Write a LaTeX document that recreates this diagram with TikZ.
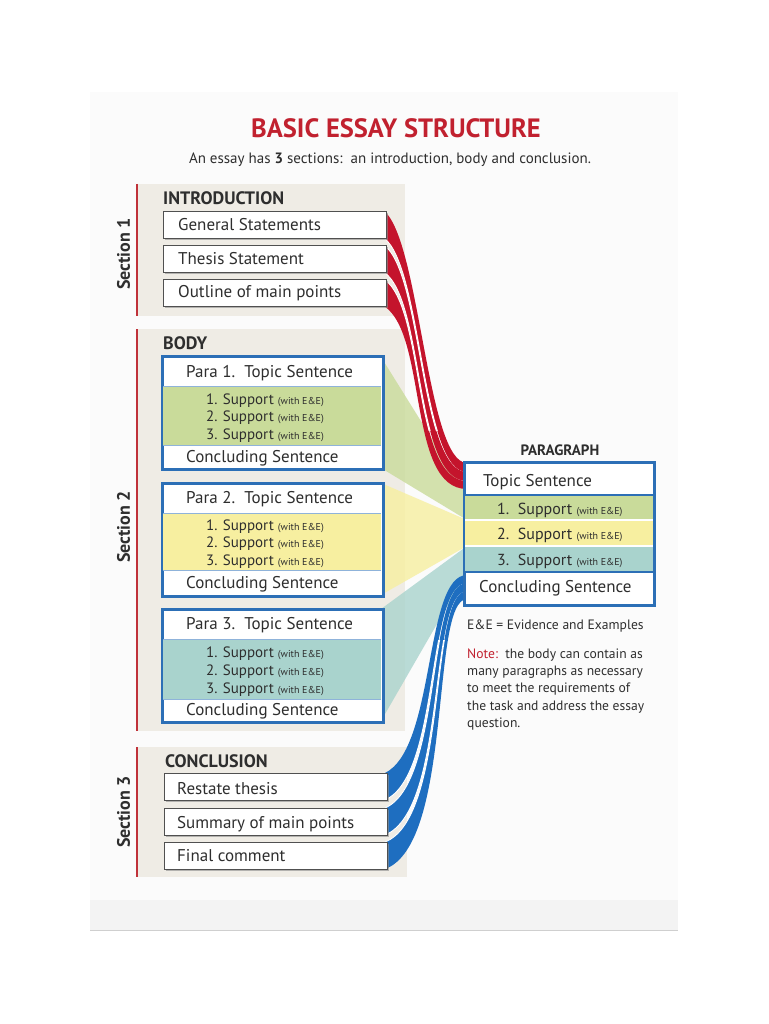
\documentclass[tikz,border=0pt]{standalone}
\usepackage{fontspec}
\setmainfont{PT Sans}
\usetikzlibrary{shadows}
\definecolor{titlered}{HTML}{C1212F}
\definecolor{ribred}{HTML}{C4142C}
\definecolor{ribblue}{HTML}{1E6EC0}
\definecolor{boxblue}{HTML}{2C6FB6}
\definecolor{sepblue}{HTML}{8FB3DA}
\definecolor{suppgreen}{HTML}{C9DB9A}
\definecolor{suppyellow}{HTML}{F7EFA0}
\definecolor{suppteal}{HTML}{A9D3CD}
\definecolor{panel}{HTML}{EFECE5}
\definecolor{pagebg}{HTML}{FBFBFB}
\definecolor{bandgray}{HTML}{F3F3F3}
\definecolor{linegray}{HTML}{CFCFCF}
\definecolor{txt}{HTML}{2E2E2E}
\definecolor{boxgray}{HTML}{505050}
\definecolor{secred}{HTML}{C0323A}
\newcommand{\pxfont}[1]{\fontsize{#1}{#1}\selectfont}
\newcommand{\wee}{\pxfont{10}(with E\&E)}
\begin{document}
\begin{tikzpicture}[x=1pt,y=-1pt,
  every node/.style={inner sep=0pt, text=txt},
  lbl/.style={anchor=base west},
  heading/.style={lbl, font=\bfseries\pxfont{18}},
  seclabel/.style={font=\bfseries\pxfont{18}, rotate=90},
  boxtext/.style={lbl, font=\pxfont{17}},
  supptext/.style={lbl, font=\pxfont{15}},
  notetext/.style={lbl, font=\pxfont{13.6}},
  plainbox/.style={draw=boxgray, line width=1pt, fill=white, minimum width=223pt,
    minimum height=27pt, anchor=north west,
    drop shadow={shadow xshift=1pt, shadow yshift=-1.5pt, fill=black!45, opacity=0.6}},
  parabox/.style={draw=boxblue, line width=2pt, fill=white, anchor=north west},
  sepline/.style={sepblue, line width=1pt},
  gapline/.style={white, line width=0.9pt}
]
\useasboundingbox (0,0) rectangle (768,1024);
% page background
\fill[white] (0,0) rectangle (768,1024);
\fill[pagebg] (90,92) rectangle (678,900);
\fill[bandgray] (90,900) rectangle (678,930);
\draw[linegray, line width=1pt] (90,930.5) -- (678,930.5);

% title
\node[font=\bfseries\pxfont{26.5}, text=titlered, anchor=base] (title) at (396,138) {BASIC ESSAY STRUCTURE};
\node[font=\pxfont{15}, anchor=base] (subtitle) at (390,164) {An essay has \textbf{3} sections:\ \ an introduction, body and conclusion.};

% section panels
\fill[panel] (137,184) rectangle (405,316);
\fill[panel] (137,329) rectangle (405,731);
\fill[panel] (137,747) rectangle (407,877);
\draw[secred, line width=2pt] (137,184) -- (137,316);
\draw[secred, line width=2pt] (137,329) -- (137,731);
\draw[secred, line width=2pt] (137,747) -- (137,877);
\node[seclabel] (sec1) at (123.5,254) {Section 1};
\node[seclabel] (sec2) at (123.5,527) {Section 2};
\node[seclabel] (sec3) at (123.5,812) {Section 3};

% wedges from body paragraphs
\fill[suppgreen, fill opacity=0.8] (381,357) -- (467,495) -- (467,520) -- (381,468) -- cycle;
\fill[suppyellow, fill opacity=0.8] (381,483) -- (467,520) -- (467,546) -- (381,595) -- cycle;
\fill[suppteal, fill opacity=0.8] (381,609) -- (467,546) -- (467,572) -- (381,721) -- cycle;

% red ribbons
\fill[ribred] (384,211) .. controls (420,240) and (427,463) .. (467,463) -- (467,472) .. controls (421.3,472) and (422.3,267) .. (384,238) -- cycle;
\fill[ribred] (384,245) .. controls (423,274) and (419.8,472) .. (467,472) -- (467,481) .. controls (413.4,481) and (425.1,301) .. (384,272) -- cycle;
\fill[ribred] (384,279) .. controls (425.7,308) and (411.9,481) .. (467,481) -- (467,489) .. controls (407,489) and (428,335) .. (384,306) -- cycle;
\begin{scope}
\clip (380,200) rectangle (470,430);
\draw[gapline] (384,238) .. controls (422.3,267) and (421.3,472) .. (467,472);
\draw[gapline] (384,245) .. controls (423,274) and (419.8,472) .. (467,472);
\draw[gapline] (384,272) .. controls (425.1,301) and (413.4,481) .. (467,481);
\draw[gapline] (384,279) .. controls (425.7,308) and (411.9,481) .. (467,481);
\end{scope}

% blue ribbons
\fill[ribblue] (385,773) .. controls (436,748) and (424,575) .. (467,575) -- (467,583) .. controls (425.7,583) and (441.1,775) .. (385,800) -- cycle;
\fill[ribblue] (385,808) .. controls (442.6,783) and (426.2,583) .. (467,583) -- (467,591) .. controls (427.9,591) and (447.6,810) .. (385,835) -- cycle;
\fill[ribblue] (385,842) .. controls (448.9,817) and (428.3,591) .. (467,591) -- (467,599) .. controls (430,599) and (454,844) .. (385,869) -- cycle;
\begin{scope}
\clip (380,640) rectangle (470,880);
\draw[gapline] (385,800) .. controls (441.1,775) and (425.7,583) .. (467,583);
\draw[gapline] (385,808) .. controls (442.6,783) and (426.2,583) .. (467,583);
\draw[gapline] (385,835) .. controls (447.6,810) and (427.9,591) .. (467,591);
\draw[gapline] (385,842) .. controls (448.9,817) and (428.3,591) .. (467,591);
\end{scope}

% introduction
\node[heading] (intro) at (163,205) {INTRODUCTION};
\node[plainbox] (gs) at (163,211) {};
\node[plainbox] (ts) at (163,245) {};
\node[plainbox] (om) at (163,279) {};
\node[boxtext] (gst) at (178,231) {General Statements};
\node[boxtext] (tst) at (178,264) {Thesis Statement};
\node[boxtext] (omt) at (178,297.5) {Outline of main points};

% body
\node[heading] (body) at (163,349) {BODY};
% para 1
\node[parabox, minimum width=220pt, minimum height=112pt] (p1) at (162,356) {};
\fill[suppgreen] (163,386) rectangle (381,445);
\draw[sepline] (163,386) -- (381,386);
\draw[sepline] (163,445) -- (381,445);
\draw[boxblue, line width=2pt] (p1.north west) rectangle (p1.south east);
\node[boxtext] (p1t) at (186,377) {Para 1.\ \ Topic Sentence};
\node[supptext] (p1a) at (206,404) {1. Support \wee};
\node[supptext] (p1b) at (206,421.5) {2. Support \wee};
\node[supptext] (p1c) at (206,439) {3. Support \wee};
\node[boxtext] (p1d) at (186,462) {Concluding Sentence};
% para 2
\node[parabox, minimum width=220pt, minimum height=112pt] (p2) at (162,483) {};
\fill[suppyellow] (163,513) rectangle (381,570);
\draw[sepline] (163,513) -- (381,513);
\draw[sepline] (163,570) -- (381,570);
\draw[boxblue, line width=2pt] (p2.north west) rectangle (p2.south east);
\node[boxtext] (p2t) at (186,503.5) {Para 2.\ \ Topic Sentence};
\node[supptext] (p2a) at (206,530) {1. Support \wee};
\node[supptext] (p2b) at (206,547.5) {2. Support \wee};
\node[supptext] (p2c) at (206,565) {3. Support \wee};
\node[boxtext] (p2d) at (186,588.5) {Concluding Sentence};
% para 3
\node[parabox, minimum width=220pt, minimum height=112pt] (p3) at (162,609) {};
\fill[suppteal] (163,639) rectangle (381,699);
\draw[sepline] (163,639) -- (381,639);
\draw[sepline] (163,699) -- (381,699);
\draw[boxblue, line width=2pt] (p3.north west) rectangle (p3.south east);
\node[boxtext] (p3t) at (186,629.5) {Para 3.\ \ Topic Sentence};
\node[supptext] (p3a) at (206,657.5) {1. Support \wee};
\node[supptext] (p3b) at (206,675.5) {2. Support \wee};
\node[supptext] (p3c) at (206,693.5) {3. Support \wee};
\node[boxtext] (p3d) at (186,715) {Concluding Sentence};

% conclusion
\node[heading] (concl) at (165,767) {CONCLUSION};
\node[plainbox] (rt) at (164,773) {};
\node[plainbox] (sm) at (164,808) {};
\node[plainbox] (fc) at (164,842) {};
\node[boxtext] (rtt) at (177,794) {Restate thesis};
\node[boxtext] (smt) at (177,828.5) {Summary of main points};
\node[boxtext] (fct) at (177,861) {Final comment};

% paragraph model
\node[font=\bfseries\pxfont{15}, anchor=base] (parhead) at (560,455) {PARAGRAPH};
\node[parabox, minimum width=189pt, minimum height=142pt] (pg) at (464,462) {};
\fill[suppgreen] (465,495) rectangle (653,520);
\fill[suppyellow] (465,520) rectangle (653,546);
\fill[suppteal] (465,546) rectangle (653,572);
\draw[white, line width=1.5pt] (465,520) -- (653,520);
\draw[white, line width=1.5pt] (465,546) -- (653,546);
\draw[boxblue, line width=1.2pt] (465,495) -- (653,495);
\draw[boxblue, line width=1.2pt] (465,572) -- (653,572);
\draw[boxblue, line width=2pt] (pg.north west) rectangle (pg.south east);
\node[lbl, font=\pxfont{17}] (pgt) at (483,486) {Topic Sentence};
\node[lbl, font=\pxfont{16}] (pga) at (497,514) {1.\ \ Support \wee};
\node[lbl, font=\pxfont{16}] (pgb) at (497,539.5) {2.\ \ Support \wee};
\node[lbl, font=\pxfont{16}] (pgc) at (497,565) {3.\ \ Support \wee};
\node[lbl, font=\pxfont{17}] (pgd) at (479,592.5) {Concluding Sentence};

% notes
\node[notetext] (ee) at (467,629.5) {E\&E = Evidence and Examples};
\node[notetext] (n1) at (467,658.3) {\textcolor{titlered}{Note:}\ \ the body can contain as};
\node[notetext] (n2) at (467,675.6) {many paragraphs as necessary};
\node[notetext] (n3) at (467,692.9) {to meet the requirements of};
\node[notetext] (n4) at (467,710.2) {the task and address the essay};
\node[notetext] (n5) at (467,727.5) {question.};
\end{tikzpicture}
\end{document}
